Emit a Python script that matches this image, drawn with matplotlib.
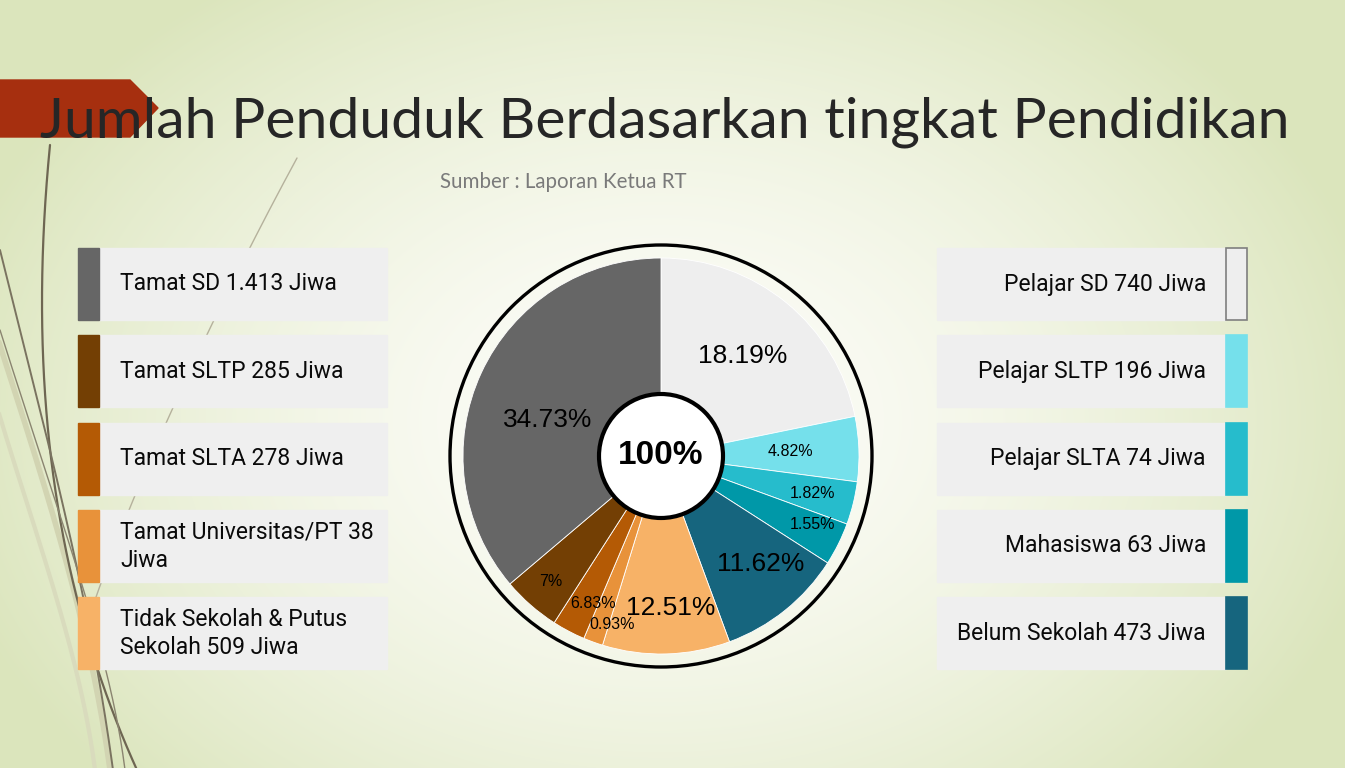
import textwrap
import numpy as np
import matplotlib
matplotlib.use("Agg")
import matplotlib.pyplot as plt
from matplotlib.patches import Rectangle, Polygon, Circle
from matplotlib.colors import to_rgb

# ---- data -------------------------------------------------------------
left_categories = ["Tamat SD", "Tamat SLTP", "Tamat SLTA",
                   "Tamat Universitas/PT", "Tidak Sekolah & Putus Sekolah"]
left_jiwa = [1413, 285, 278, 38, 509]
left_colors = ["#666666", "#733f04", "#b45a05", "#e8923a", "#f7b267"]

right_categories = ["Pelajar SD", "Pelajar SLTP", "Pelajar SLTA",
                    "Mahasiswa", "Belum Sekolah"]
right_jiwa = [740, 196, 74, 63, 473]
right_colors = ["#eeeeee", "#75e0eb", "#26bccc", "#0098a8", "#16657e"]

# slice sizes as they are drawn in the picture (percent of the circle),
# clockwise from 12 o'clock: right list, then left list reversed
slice_share = [21.8, 5.3, 3.5, 3.5, 10.3, 10.4, 1.6, 2.7, 4.75, 36.2]

title = "Jumlah Penduduk Berdasarkan tingkat Pendidikan"
subtitle = "Sumber : Laporan Ketua RT"
center_label = "100%"

# ---- derived ----------------------------------------------------------
pie_jiwa = right_jiwa + left_jiwa[::-1]
pie_colors = right_colors + left_colors[::-1]
total = sum(pie_jiwa)
pie_pct = [100 * v / total for v in pie_jiwa]
# where each label sits inside its wedge (radius, turn in degrees)
label_radius = [0.655, 0.655, 0.79, 0.84, 0.74, 0.77, 0.885, 0.82, 0.845, 0.6]
label_turn = [0, 0, 0, 2, 4, 2, 4, 3, 0, 7]


def jiwa_text(cat, n):
    num = f"{n:,}".replace(",", ".")
    return "\n".join(textwrap.wrap(f"{cat} {num} Jiwa", 23))


def pct_text(p):
    return f"{p:.2f}".rstrip("0").rstrip(".") + "%"


W, H = 1345, 768
fig = plt.figure(figsize=(W / 100, H / 100), dpi=100)

# background in pixel coordinates
bg = fig.add_axes([0, 0, 1, 1])
bg.set_xlim(0, W)
bg.set_ylim(H, 0)
bg.axis("off")

yy, xx = np.mgrid[0:H, 0:W]
d = np.sqrt(((xx - 660) / 740.0) ** 2 + ((yy - 420) / 540.0) ** 2)
d = np.clip(d, 0, 1) ** 1.6
c0 = np.array(to_rgb("#fdfdf9"))
c1 = np.array(to_rgb("#dbe5bc"))
img = c0[None, None, :] * (1 - d[..., None]) + c1[None, None, :] * d[..., None]
bg.imshow(img, extent=[0, W, H, 0], aspect="auto", zorder=0)


def bezier(p0, p1, p2, p3, n=200):
    t = np.linspace(0, 1, n)[:, None]
    p0, p1, p2, p3 = map(np.array, (p0, p1, p2, p3))
    return ((1 - t) ** 3 * p0 + 3 * (1 - t) ** 2 * t * p1
            + 3 * (1 - t) * t ** 2 * p2 + t ** 3 * p3)


# decorative grass lines on the left
deco = [
    ((-5, 330), (40, 470), (90, 620), (110, 770), "#d2d4b2", 4.0),
    ((-5, 400), (30, 520), (80, 650), (95, 770), "#d9dbbd", 3.0),
    ((50, 145), (25, 400), (60, 600), (137, 770), "#6e6652", 1.6),
    ((0, 250), (50, 450), (90, 600), (113, 770), "#7a7360", 1.4),
    ((0, 330), (60, 520), (110, 650), (125, 770), "#8a8470", 1.0),
    ((297, 158), (220, 300), (140, 470), (95, 600), "#b5b19c", 1.0),
]
for p0, p1, p2, p3, col, lw in deco:
    pts = bezier(p0, p1, p2, p3)
    bg.plot(pts[:, 0], pts[:, 1], color=col, lw=lw, zorder=1,
            solid_capstyle="round")

# red banner
bg.add_patch(Polygon([(0, 80), (130, 80), (158, 108), (130, 137), (0, 137)],
                     closed=True, color="#a62f0f", zorder=2))

t_title = bg.text(40, 137, title, fontsize=40, family="Lato", weight="normal",
                  color="#262626", va="baseline", ha="left", zorder=5)
fig.canvas.draw()
tw = t_title.get_window_extent().width
t_title.set_fontsize(40 * 1247 / tw)

bg.text(440, 188, subtitle, fontsize=14.8, family="Lato", color="#7a7a7a",
        va="baseline", ha="left", zorder=5)

# legend boxes
row_top = [248 + i * 87.3 for i in range(5)]
box_h = 72
for i, (cat, n, col) in enumerate(zip(left_categories, left_jiwa, left_colors)):
    y = row_top[i]
    bg.add_patch(Rectangle((99, y), 288, box_h, color="#efefef", zorder=3))
    bg.add_patch(Rectangle((78, y), 21, box_h, color=col, zorder=4))
    bg.text(120, y + box_h / 2, jiwa_text(cat, n), fontsize=16.5,
            family="Roboto", color="#0a0a0a", va="center", ha="left",
            linespacing=1.3, zorder=5)

for i, (cat, n, col) in enumerate(zip(right_categories, right_jiwa, right_colors)):
    y = row_top[i]
    bg.add_patch(Rectangle((937, y), 289, box_h, color="#efefef", zorder=3))
    edge = "#7f7f7f" if i == 0 else col
    bg.add_patch(Rectangle((1226, y), 21, box_h, facecolor=col,
                           edgecolor=edge, lw=1.2, zorder=4))
    bg.text(1206, y + box_h / 2, jiwa_text(cat, n), fontsize=16.5,
            family="Roboto", color="#0a0a0a", va="center", ha="right",
            linespacing=1.3, zorder=5)

# pie, 1 data unit = 198 px
cx, cy, rpx = 661, 456, 198
half = 240
ax = fig.add_axes([(cx - half) / W, (H - cy - half) / H, 2 * half / W, 2 * half / H])
ax.axis("off")

wedges, _ = ax.pie(slice_share, colors=pie_colors, startangle=90,
                   counterclock=False, radius=1,
                   wedgeprops=dict(edgecolor="white", linewidth=0.6))
ax.set_xlim(-half / rpx, half / rpx)
ax.set_ylim(-half / rpx, half / rpx)

for w, p, r, turn in zip(wedges, pie_pct, label_radius, label_turn):
    th = np.deg2rad((w.theta1 + w.theta2) / 2 + turn)
    big = p >= 10
    ax.text(r * np.cos(th), r * np.sin(th), pct_text(p),
            fontsize=19 if big else 11.5, family="Liberation Sans",
            color="#000000", ha="center", va="center")

ax.add_patch(Circle((0, 0), 211 / rpx, fill=False, edgecolor="black", lw=2.4))
ax.add_patch(Circle((0, 0), 62 / rpx, facecolor="white", edgecolor="black",
                    lw=3.0, zorder=5))
ax.text(0, 0, center_label, fontsize=24, family="Liberation Sans",
        weight="bold", ha="center", va="center", zorder=6)

fig.savefig("out.png", dpi=100)
